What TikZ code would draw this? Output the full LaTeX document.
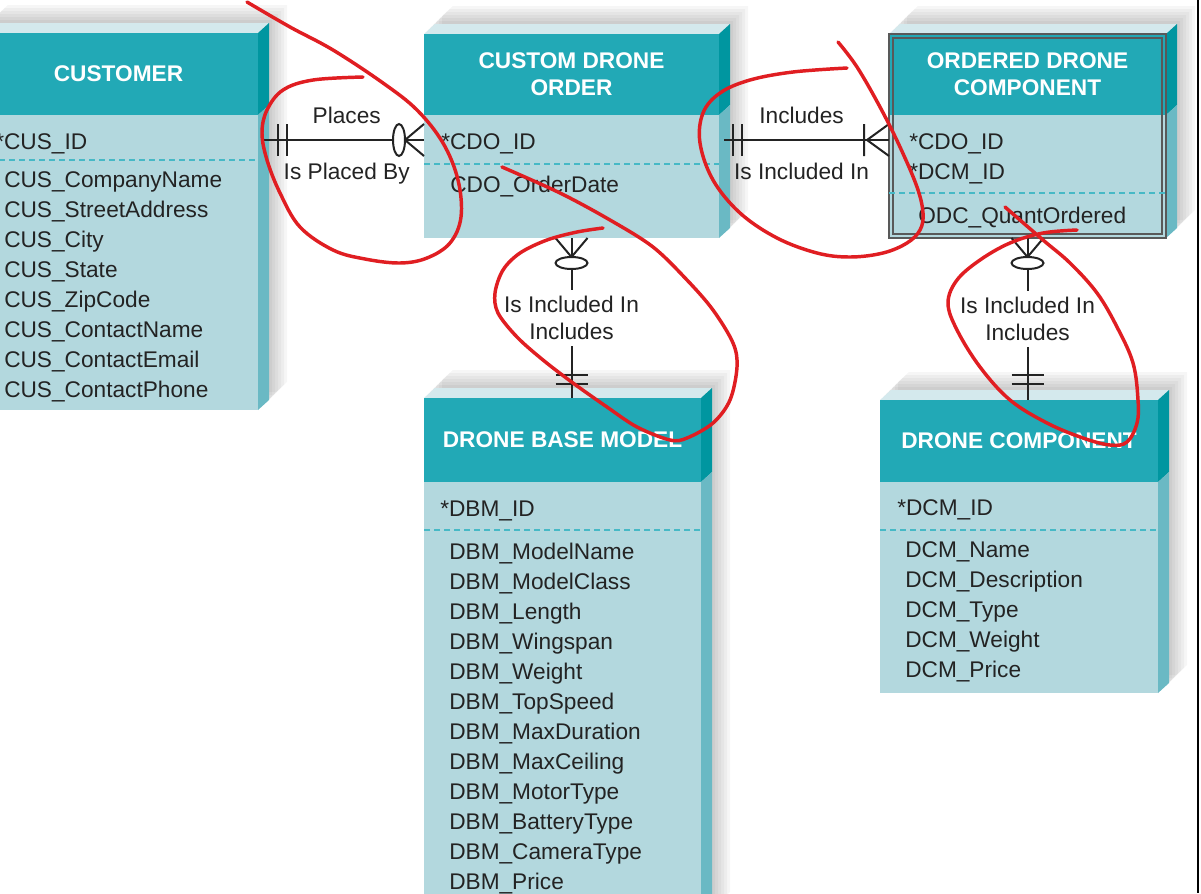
\documentclass[tikz,border=0pt]{standalone}
\usepackage{fontspec}
\setmainfont{Liberation Sans}
\definecolor{HeadTeal}{RGB}{34,169,182}
\definecolor{BodyTeal}{RGB}{179,216,222}
\definecolor{TopTeal}{RGB}{212,233,237}
\definecolor{SideDark}{RGB}{0,150,160}
\definecolor{SideMid}{RGB}{106,185,196}
\definecolor{KeyDash}{RGB}{70,185,198}
\definecolor{InkGray}{RGB}{35,35,35}
\definecolor{MarkRed}{RGB}{224,30,34}
\usetikzlibrary{positioning,calc,fit}
\tikzset{>=latex}
\tikzset{hdr/.style={fill=HeadTeal,inner sep=0pt,outer sep=0pt}}
\tikzset{hdrtext/.style={inner sep=0pt,text=white,align=center,font=\fontsize{17}{20.25}\selectfont\bfseries}}
\tikzset{bdy/.style={fill=BodyTeal,inner sep=0pt,outer sep=0pt}}
\tikzset{attr/.style={anchor=west,inner sep=0pt,text height=12.2pt,text depth=0pt,text=InkGray,font=\fontsize{17}{20}\selectfont}}
\tikzset{keyline/.style={KeyDash,line width=1.1pt,dash pattern=on 4.5pt off 3pt}}
\tikzset{rel/.style={InkGray,line width=1.5pt}}
\tikzset{rlab/.style={inner sep=0pt,text height=12.2pt,text depth=0pt,text=InkGray,font=\fontsize{17}{20}\selectfont}}
\tikzset{rlabtwo/.style={fill=white,inner xsep=2pt,inner ysep=5pt,align=center,text=InkGray,font=\fontsize{17}{20.25}\selectfont}}
\tikzset{redmark/.style={MarkRed,line width=2.6pt,line cap=round,line join=round}}
\tikzset{pics/twobar/.style={code={\draw[rel] (#1,-16) -- (#1,16) (#1+9,-16) -- (#1+9,16);}}}
\tikzset{pics/zeromany/.style={code={\draw[rel] (0,-16) -- (19,0) -- (0,16); \draw[rel,fill=white] (25,0) ellipse[x radius=6,y radius=16];}}}
\tikzset{pics/barmany/.style={code={\draw[rel] (0,-16) -- (22,0) -- (0,16) (25,-16) -- (25,16);}}}

\begin{document}
\begin{tikzpicture}[x=0.75pt,y=-0.75pt]
\useasboundingbox (0,0) rectangle (1201,893);
\clip (0,0) rectangle (1201,893);

% shadows and 3d faces
\foreach \xa/\ya/\yb/\yc/\xb in {-21/33/115/410/258, 424/34/115/238/719, 889/34/115/238/1166, 424/398/482/920/701, 880/400/482/693/1158}{
    \foreach \k in {1,...,6}
        \fill[black,opacity=.035,shift={(3*\k,-3*\k)}] (\xa,\ya) -- (\xa+11,\ya-10) -- (\xb+11,\ya-10) -- (\xb+11,\yc-10) -- (\xb,\yc) -- (\xa,\yc) -- cycle;
    \fill[TopTeal] (\xa,\ya) -- (\xa+11,\ya-10) -- (\xb+11,\ya-10) -- (\xb,\ya) -- cycle;
    \fill[SideDark] (\xb,\ya) -- (\xb+11,\ya-10) -- (\xb+11,\yb-10) -- (\xb,\yb) -- cycle;
    \fill[SideMid] (\xb,\yb) -- (\xb+11,\yb-10) -- (\xb+11,\yc-10) -- (\xb,\yc) -- cycle;
}

% entities
\node[hdr,fit={(-21,33) (258,115)}] (cus) {};
\node[hdrtext] (cust) at (cus) {CUSTOMER};
\node[bdy,fit={(-21,115) (258,410)}] (cusb) {};
\node[hdr,fit={(424,34) (719,115)}] (cdo) {};
\node[hdrtext] (cdot) at (cdo) {CUSTOM DRONE\\ORDER};
\node[bdy,fit={(424,115) (719,238)}] (cdob) {};
\node[hdr,fit={(889,34) (1166,115)}] (odc) {};
\node[hdrtext] (odct) at (odc) {ORDERED DRONE\\COMPONENT};
\node[bdy,fit={(889,115) (1166,238)}] (odcb) {};
\node[hdr,fit={(424,398) (701,482)}] (dbm) {};
\node[hdrtext] (dbmt) at (dbm) {DRONE BASE MODEL};
\node[bdy,fit={(424,482) (701,920)}] (dbmb) {};
\node[hdr,fit={(880,400) (1158,482)}] (dcm) {};
\node[hdrtext] (dcmt) at (dcm) {DRONE COMPONENT};
\node[bdy,fit={(880,482) (1158,693)}] (dcmb) {};
\draw[black!65,line width=1.1pt] (odc.north west) rectangle (odcb.south east);
\draw[black!65,line width=1.1pt] ([shift={(3pt,-3pt)}]odc.north west) rectangle ([shift={(-3pt,3pt)}]odcb.south east);

% attributes
\node[attr] (cusid) at (-5,141) {*CUS\_ID};
\draw[keyline] (-21,160) -- (258,160);
\foreach \a [count=\i] in {CompanyName,StreetAddress,City,State,ZipCode,ContactName,ContactEmail,ContactPhone}
    \node[attr] (cus\i) at (4,149+30*\i) {CUS\_\a};
\node[attr] (cdoid) at (441,141) {*CDO\_ID};
\draw[keyline] (424,164) -- (719,164);
\node[attr] (cdodate) at (450,184) {CDO\_OrderDate};
\node[attr] (odccdo) at (909,141) {*CDO\_ID};
\node[attr] (odcdcm) at (909,171) {*DCM\_ID};
\draw[keyline] (889,193) -- (1166,193);
\node[attr] (odcqty) at (918,215) {ODC\_QuantOrdered};
\node[attr] (dbmid) at (440,508) {*DBM\_ID};
\draw[keyline] (424,530) -- (701,530);
\foreach \a [count=\i] in {ModelName,ModelClass,Length,Wingspan,Weight,TopSpeed,MaxDuration,MaxCeiling,MotorType,BatteryType,CameraType,Price}
    \node[attr] (dbm\i) at (449,521+30*\i) {DBM\_\a};
\node[attr] (dcmid) at (897,507) {*DCM\_ID};
\draw[keyline] (880,530) -- (1158,530);
\foreach \a [count=\i] in {Name,Description,Type,Weight,Price}
    \node[attr] (dcm\i) at (905,519+30*\i) {DCM\_\a};

% relationships
\draw[rel] ($(cusb.east |- cdoid)+(5,-1)$) coordinate (r1a) -- node[rlab,pos=.52,above=12pt]{Places} node[rlab,pos=.52,below=17pt]{Is Placed By} ($(cdob.west |- cdoid)+(0,-1)$) coordinate (r1b);
\pic at (r1a) {twobar=15};
\pic[rotate=180] at (r1b) {zeromany};
\draw[rel] ($(cdob.east |- cdoid)+(5,-1)$) coordinate (r2a) -- node[rlab,pos=.47,above=12pt]{Includes} node[rlab,pos=.47,below=17pt]{Is Included In} ($(odcb.west |- cdoid)+(0,-1)$) coordinate (r2b);
\pic at (r2a) {twobar=9};
\pic[rotate=180] at (r2b) {barmany};
\draw[rel] (cdob.south) coordinate (r3a) -- node[rlabtwo]{Is Included In\\Includes} (cdob.south |- dbm.north) coordinate (r3b);
\pic[rotate=-90] at (r3a) {zeromany};
\pic[rotate=90] at (r3b) {twobar=14};
\draw[rel] (odcb.south) coordinate (r4a) -- node[rlabtwo]{Is Included In\\Includes} (odcb.south |- dcm.north) coordinate (r4b);
\pic[rotate=-90] at (r4a) {zeromany};
\pic[rotate=90] at (r4b) {twobar=16};

% red pen marks
\draw[redmark] plot[smooth,tension=.6] coordinates {(247,2) (290,27) (333,50) (383,83) (417,110) (443,143) (458,180) (461,217) (450,243) (427,258) (400,263) (365,259) (333,250) (300,227) (280,193) (267,160) (262,133) (267,110) (283,90) (313,80) (363,77)};
\draw[redmark] plot[smooth,tension=.55] coordinates {(502,167) (560,193) (610,220) (653,247) (687,280) (713,310) (733,343) (737,367) (730,400) (713,423) (687,438) (670,440) (637,427) (607,407) (573,383) (543,360) (517,337) (498,313) (495,293) (503,270) (520,253) (547,240) (577,232) (603,228)};
\draw[redmark] plot[smooth,tension=.6] coordinates {(838,42) (857,67) (880,107) (900,147) (917,187) (923,213) (920,230) (907,243) (883,253) (850,257) (817,253) (777,238) (740,213) (713,180) (700,143) (703,113) (720,93) (750,80) (793,72) (847,68)};
\draw[redmark] plot[smooth,tension=.6] coordinates {(1005,207) (1043,240) (1070,263) (1097,293) (1117,327) (1133,363) (1138,400) (1137,423) (1127,442) (1110,445) (1083,438) (1047,423) (1010,400) (980,367) (957,330) (948,303) (957,280) (980,260) (1010,243) (1043,233) (1077,230)};

% page edge
\draw[black,line width=1.5pt] (1198,0) -- (1198,893);
\end{tikzpicture}
\end{document}
